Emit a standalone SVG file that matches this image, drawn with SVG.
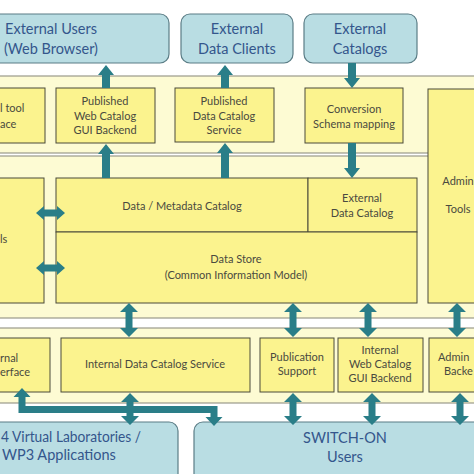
<svg xmlns="http://www.w3.org/2000/svg" width="474" height="474" viewBox="0 0 474 474">
<style>
.band{fill:#fdfbd3;stroke:#9a9a8a;stroke-width:1.2}
.box{fill:#fbf38e;stroke:#4a4a3a;stroke-width:1}
.ext{fill:#b9dde3;stroke:#5b7d86;stroke-width:1.2}
.t{font-family:Lato,"Open Sans",sans-serif;font-size:11px;fill:#4a4a40;text-anchor:middle}
.tb{font-family:Lato,"Open Sans",sans-serif;font-size:14.5px;fill:#34568c;text-anchor:middle}
.arr{fill:#2a7e88}
</style>
<rect width="474" height="474" fill="#ffffff"/>
<!-- bands -->
<rect class="band" x="-2" y="76" width="478" height="77"/>
<rect class="band" x="-2" y="156" width="478" height="162"/>
<rect class="band" x="-2" y="328" width="478" height="75"/>

<g id="ext-users"><rect class="ext" x="-12" y="14" width="181" height="49" rx="9"/>
<text class="tb" x="51" y="34">External Users</text><text class="tb" x="51" y="54">(Web Browser)</text></g>
<g id="ext-clients"><rect class="ext" x="181" y="14" width="112" height="49" rx="9"/>
<text class="tb" x="237" y="34">External</text><text class="tb" x="237" y="54">Data Clients</text></g>
<g id="ext-catalogs"><rect class="ext" x="304" y="14" width="113" height="49" rx="9"/>
<text class="tb" x="360" y="34">External</text><text class="tb" x="360" y="54">Catalogs</text></g>

<g id="gui-tool"><rect class="box" x="-10" y="88" width="55" height="55"/>
<text class="t" x="0" y="112" style="text-anchor:start">l tool</text><text class="t" x="0" y="128" style="text-anchor:start">ace</text></g>
<g id="pub-web"><rect class="box" x="56" y="88" width="99" height="55"/>
<text class="t" x="105" y="105">Published</text><text class="t" x="105" y="119.5">Web Catalog</text><text class="t" x="105" y="134">GUI Backend</text></g>
<g id="pub-data"><rect class="box" x="175" y="88" width="99" height="54"/>
<text class="t" x="224" y="105">Published</text><text class="t" x="224" y="119.5">Data Catalog</text><text class="t" x="224" y="134">Service</text></g>
<g id="conversion"><rect class="box" x="305" y="88" width="98" height="55"/>
<text class="t" x="354" y="113">Conversion</text><text class="t" x="354" y="128">Schema mapping</text></g>
<g id="admin-tools"><rect class="box" x="428" y="89" width="60" height="214"/>
<text class="t" x="458" y="185">Admin</text><text class="t" x="458" y="213">Tools</text></g>

<g id="tools-left"><rect class="box" x="-10" y="178" width="54" height="125"/>
<text class="t" x="0" y="243" style="text-anchor:start">ls</text></g>
<g id="metadata"><rect class="box" x="56" y="178" width="252" height="54"/>
<text class="t" x="182" y="210">Data / Metadata Catalog</text></g>
<g id="ext-data-catalog"><rect class="box" x="308" y="178" width="109" height="54"/>
<text class="t" x="362" y="202">External</text><text class="t" x="362" y="217">Data Catalog</text></g>
<g id="data-store"><rect class="box" x="56" y="232" width="361" height="71"/>
<text class="t" x="236" y="263">Data Store</text><text class="t" x="236" y="279">(Common Information Model)</text></g>

<g id="int-interface"><rect class="box" x="-10" y="338" width="60" height="54"/>
<text class="t" x="0" y="362" style="text-anchor:start">rnal</text><text class="t" x="0" y="376" style="text-anchor:start">erface</text></g>
<g id="int-data-service"><rect class="box" x="61" y="338" width="189" height="54"/>
<text class="t" x="155" y="368">Internal Data Catalog Service</text></g>
<g id="pub-support"><rect class="box" x="260" y="338" width="74" height="54"/>
<text class="t" x="297" y="361">Publication</text><text class="t" x="297" y="375">Support</text></g>
<g id="int-web"><rect class="box" x="338" y="338" width="85" height="54"/>
<text class="t" x="380" y="354">Internal</text><text class="t" x="380" y="368">Web Catalog</text><text class="t" x="380" y="382">GUI Backend</text></g>
<g id="admin-backend"><rect class="box" x="429" y="338" width="60" height="54"/>
<text class="t" x="438" y="361" style="text-anchor:start">Admin</text><text class="t" x="444" y="375" style="text-anchor:start">Backe</text></g>

<g id="virtual-labs"><rect class="ext" x="-12" y="422" width="190" height="62" rx="9"/>
<text class="tb" x="1" y="442" style="text-anchor:start" textLength="140" lengthAdjust="spacingAndGlyphs">4 Virtual Laboratories /</text><text class="tb" x="2" y="460" style="text-anchor:start">WP3 Applications</text></g>
<g id="switch-users"><rect class="ext" x="194" y="422" width="300" height="62" rx="9"/>
<text class="tb" x="345" y="443">SWITCH-ON</text><text class="tb" x="345" y="462">Users</text></g>

<g id="connectors">
<path class="arr" d="M102,88 V75 H98 L106,65 L114,75 H110 V88 Z"/>
<path class="arr" d="M102,178 V154 H98 L106,144 L114,154 H110 V178 Z"/>
<path class="arr" d="M221,88 V75 H217 L225,65 L233,75 H229 V88 Z"/>
<path class="arr" d="M221,178 V153 H217 L225,143 L233,153 H229 V178 Z"/>
<path class="arr" d="M348,63 V78 H344 L352,88 L360,78 H356 V63 Z"/>
<path class="arr" d="M348,143 V168 H344 L352,178 L360,168 H356 V143 Z"/>
<path class="arr" d="M36,213 L44,206 V209.5 H57 V206 L65,213 L57,220 V216.5 H44 V220 Z"/>
<path class="arr" d="M36,268 L44,261 V264.5 H57 V261 L65,268 L57,275 V271.5 H44 V275 Z"/>
<path class="arr" d="M129,303 L138,312 H132.5 V328 H138 L129,337 L120,328 H125.5 V312 H120 Z"/>
<path class="arr" d="M293,303 L302,312 H296.5 V328 H302 L293,337 L284,328 H289.5 V312 H284 Z"/>
<path class="arr" d="M368,303 L377,312 H371.5 V328 H377 L368,337 L359,328 H364.5 V312 H359 Z"/>
<path class="arr" d="M457,303 L466,312 H460.5 V328 H466 L457,337 L448,328 H453.5 V312 H448 Z"/>
<path class="arr" d="M130,393 L139,402 H133.5 V416 H139 L130,425 L121,416 H126.5 V402 H121 Z"/>
<path class="arr" d="M293,393 L302,402 H296.5 V416 H302 L293,425 L284,416 H289.5 V402 H284 Z"/>
<path class="arr" d="M372,393 L381,402 H375.5 V416 H381 L372,425 L363,416 H368.5 V402 H363 Z"/>
<path class="arr" d="M460,393 L469,402 H463.5 V416 H469 L460,425 L451,416 H456.5 V402 H451 Z"/>
<path class="arr" d="M22,388 L30.5,397 H25.5 V406 H217.5 V417 H222.5 L214,426 L205.5,417 H210.5 V413 H18.5 V397 H13.5 Z"/>
</g>
</svg>
